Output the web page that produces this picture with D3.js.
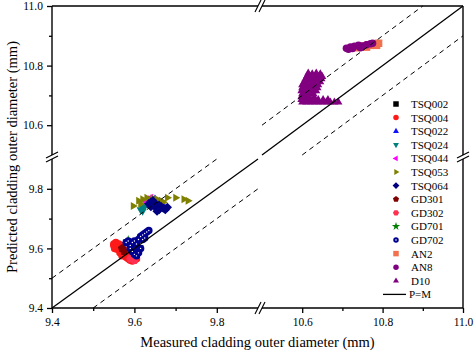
<!DOCTYPE html>
<html><head><meta charset="utf-8">
<script src="https://cdn.jsdelivr.net/npm/d3@7"></script>
<style>body{margin:0;background:#fff}svg{display:block}text{font-family:"Liberation Serif","Times New Roman",serif;fill:#000}</style>
</head><body>
<svg id="c" width="474" height="355"></svg>
<script>
// ---- data ----
const seriesNames = ["TSQ002","TSQ004","TSQ022","TSQ024","TSQ044","TSQ053","TSQ064","GD301","GD302","GD701","GD702","AN2","AN8","D10"];
const xTicksLow = [9.4, 9.6, 9.8];
const xTicksHigh = [10.6, 10.8, 11.0];
const yTicksLow = [9.4, 9.6, 9.8];
const yTicksHigh = [10.6, 10.8, 11.0];
const minorLow = [9.5, 9.7];
const minorHigh = [10.7, 10.9];

const tsq002 = [[9.64,9.75],[9.65,9.755]];
const tsq004 = [[9.55,9.615],[9.555,9.62],[9.56,9.61],[9.555,9.605],[9.56,9.6],[9.565,9.595],[9.57,9.59],[9.575,9.585],[9.565,9.605],[9.57,9.6],[9.58,9.58],[9.585,9.575],[9.59,9.57],[9.595,9.565],[9.6,9.56],[9.59,9.56],[9.585,9.565],[9.58,9.57],[9.6,9.57],[9.575,9.595],[9.55,9.61],[9.558,9.597],[9.565,9.585],[9.57,9.575],[9.552,9.6],[9.562,9.615],[9.568,9.61],[9.578,9.575],[9.595,9.558],[9.605,9.565],[9.588,9.58]];
const tsq022 = [[9.64,9.76],[9.65,9.765],[9.63,9.755],[9.66,9.755],[9.67,9.745],[9.635,9.745]];
const tsq024 = [[9.615,9.73],[9.62,9.735],[9.625,9.74],[9.62,9.725]];
const tsq044 = [[9.63,9.765],[9.64,9.77],[9.625,9.76]];
const tsq053 = [[9.597,9.742],[9.61,9.76],[9.62,9.765],[9.63,9.77],[9.645,9.768],[9.655,9.765],[9.665,9.76],[9.67,9.755],[9.68,9.77],[9.7,9.77],[9.72,9.765],[9.73,9.76],[9.615,9.75],[9.66,9.752]];
const tsq064 = [[9.635,9.75],[9.64,9.755],[9.645,9.745],[9.65,9.74],[9.655,9.735],[9.66,9.73],[9.665,9.74],[9.67,9.735],[9.675,9.73],[9.68,9.738],[9.645,9.76],[9.65,9.75],[9.66,9.745],[9.64,9.74],[9.655,9.725]];
const gd301 = [[9.57,9.6],[9.575,9.59]];
const gd302 = [[9.59,9.565],[9.6,9.56],[9.595,9.57]];
const gd701 = [[9.59,9.615],[9.6,9.61],[9.585,9.625],[9.61,9.605]];
const gd702 = [[9.58,9.62],[9.585,9.625],[9.59,9.61],[9.595,9.62],[9.6,9.625],[9.605,9.615],[9.6,9.6],[9.595,9.59],[9.6,9.58],[9.61,9.585],[9.615,9.6],[9.61,9.63],[9.615,9.64],[9.62,9.645],[9.625,9.65],[9.63,9.655],[9.635,9.66],[9.625,9.635],[9.62,9.63],[9.59,9.6],[9.605,9.575]];
const an2 = [[10.735,10.86],[10.75,10.865],[10.76,10.862],[10.77,10.868],[10.78,10.872],[10.79,10.875],[10.785,10.868],[10.765,10.87]];
const an8 = [[10.71,10.858],[10.72,10.862],[10.715,10.855],[10.73,10.865],[10.74,10.868],[10.75,10.866],[10.76,10.87],[10.77,10.873],[10.775,10.875],[10.745,10.86],[10.725,10.857]];
const d10 = [[10.615,10.775],[10.625,10.772],[10.635,10.775],[10.645,10.772],
 [10.612,10.765],[10.622,10.765],[10.632,10.765],[10.642,10.765],[10.65,10.763],
 [10.608,10.755],[10.618,10.755],[10.628,10.755],[10.638,10.755],[10.648,10.755],
 [10.605,10.745],[10.615,10.745],[10.625,10.745],[10.635,10.745],[10.645,10.745],
 [10.6,10.735],[10.61,10.735],[10.62,10.735],[10.63,10.735],[10.64,10.735],
 [10.6,10.725],[10.61,10.725],[10.62,10.725],[10.63,10.725],[10.638,10.725],
 [10.598,10.715],[10.608,10.715],[10.618,10.715],[10.628,10.715],[10.635,10.715],
 [10.6,10.705],[10.61,10.705],[10.62,10.705],[10.628,10.705],
 [10.598,10.695],[10.608,10.695],[10.618,10.695],[10.63,10.693],
 [10.598,10.686],[10.608,10.686],[10.618,10.686],[10.628,10.686],[10.64,10.686],[10.652,10.686],[10.664,10.686],
 [10.6,10.677],[10.61,10.677],[10.62,10.677],[10.63,10.677],[10.64,10.677],[10.65,10.677],[10.66,10.677],[10.67,10.677],[10.68,10.677],[10.69,10.677]];
const seriesData = [tsq002,tsq004,tsq022,tsq024,tsq044,tsq053,tsq064,gd301,gd302,gd701,gd702,an2,an8,d10];

// ---- styles ----
const colors = ["#000000","#ff1a1a","#1010ff","#008080","#ff00ff","#808000","#000080","#800000","#ff3050","#008000","#000090","#f07050","#800080","#800080"];
const shapes = ["square","circle","tri","tridown","trileft","triright","diamond","pentagon","hexagon","star","dotcircle","square","circle","tri"];

const svg = d3.select("#c");
const L=52, R=463, T=6, B=308, XB1=258, XB2=262, YB1=159, YB2=155;
const xLo = d3.scaleLinear().domain([9.4,9.9]).range([L,XB1]);
const xHi = d3.scaleLinear().domain([10.5,11.0]).range([XB2,R]);
const yLo = d3.scaleLinear().domain([9.4,9.9]).range([B,YB1]);
const yHi = d3.scaleLinear().domain([10.5,11.0]).range([YB2,T]);
const X = v => v < 10.2 ? xLo(v) : xHi(v);
const Y = v => v < 10.2 ? yLo(v) : yHi(v);

function symPath(shape, s){
  const p = d3.path();
  const poly = (n, r, rot) => { for(let i=0;i<n;i++){const a=rot+i*2*Math.PI/n; const px=r*Math.cos(a), py=r*Math.sin(a); i?p.lineTo(px,py):p.moveTo(px,py);} p.closePath(); };
  switch(shape){
    case "square": return d3.symbol(d3.symbolSquare, s*s)();
    case "circle": case "dotcircle": return d3.symbol(d3.symbolCircle, Math.PI*s*s/4)();
    case "tri": poly(3, s*0.62, -Math.PI/2); break;
    case "tridown": poly(3, s*0.62, Math.PI/2); break;
    case "trileft": poly(3, s*0.62, Math.PI); break;
    case "triright": poly(3, s*0.62, 0); break;
    case "diamond": poly(4, s*0.62, -Math.PI/2); break;
    case "pentagon": poly(5, s*0.58, -Math.PI/2); break;
    case "hexagon": poly(6, s*0.56, 0); break;
    case "star": return d3.symbol(d3.symbolStar, s*s*0.7)();
  }
  return p.toString();
}

// ---- points ----
const gPts = svg.append("g");
seriesData.forEach((data, i) => {
  const g = gPts.append("g");
  g.selectAll("path").data(data).join("path")
    .attr("transform", d => `translate(${X(d[0])},${Y(d[1])})`)
    .attr("d", symPath(shapes[i], 7.5))
    .attr("fill", colors[i]);
  if (shapes[i] === "dotcircle") {
    g.selectAll("circle").data(data).join("circle")
      .attr("cx", d => X(d[0])).attr("cy", d => Y(d[1])).attr("r", 0.7).attr("fill", "#fff");
  }
});

// ---- reference lines ----
const lines = [
  {x:[9.4,9.9], y:[9.4,9.9], dash:null},
  {x:[10.5,11.0], y:[10.5,11.0], dash:null},
  {x:[9.4,9.8], y:[9.5,9.9], dash:"5,4"},
  {x:[9.5,9.9], y:[9.4,9.8], dash:"5,4"},
  {x:[10.5,10.9], y:[10.6,11.0], dash:"5,4"},
  {x:[10.6,11.0], y:[10.5,10.9], dash:"5,4"}
];
lines.forEach(l => {
  svg.append("line").attr("x1",X(l.x[0])).attr("y1",Y(l.y[0])).attr("x2",X(l.x[1])).attr("y2",Y(l.y[1]))
    .attr("stroke","#000").attr("stroke-width", l.dash?1:1.3).attr("stroke-dasharray", l.dash);
});

// ---- axes ----
const ax = svg.append("g");
function styleAxis(g, hideLabels){
  g.attr("font-family",'"Liberation Serif",serif').attr("font-size",11.5);
  g.select(".domain").remove();
  g.selectAll(".tick line").attr("stroke","#000").attr("stroke-width",1.3);
  g.selectAll(".tick text").attr("font-family",'"Liberation Serif",serif').style("font-family",'"Liberation Serif",serif').style("font-size","11.5px");
  if (hideLabels) g.selectAll(".tick text").remove();
}
ax.append("g").attr("transform",`translate(0,${B})`).call(d3.axisBottom(xLo).tickValues(xTicksLow).tickSize(5).tickPadding(5).tickFormat(d3.format(".1f"))).call(styleAxis,false);
ax.append("g").attr("transform",`translate(0,${B})`).call(d3.axisBottom(xHi).tickValues(xTicksHigh).tickSize(5).tickPadding(5).tickFormat(d3.format(".1f"))).call(styleAxis,false);
ax.append("g").attr("transform",`translate(0,${B})`).call(d3.axisBottom(xLo).tickValues(minorLow).tickSize(3)).call(styleAxis,true);
ax.append("g").attr("transform",`translate(0,${B})`).call(d3.axisBottom(xHi).tickValues(minorHigh).tickSize(3)).call(styleAxis,true);
ax.append("g").attr("transform",`translate(${L},0)`).call(d3.axisLeft(yLo).tickValues(yTicksLow).tickSize(5).tickPadding(4).tickFormat(d3.format(".1f"))).call(styleAxis,false);
ax.append("g").attr("transform",`translate(${L},0)`).call(d3.axisLeft(yHi).tickValues(yTicksHigh).tickSize(5).tickPadding(4).tickFormat(d3.format(".1f"))).call(styleAxis,false);
ax.append("g").attr("transform",`translate(${L},0)`).call(d3.axisLeft(yLo).tickValues(minorLow).tickSize(3)).call(styleAxis,true);
ax.append("g").attr("transform",`translate(${L},0)`).call(d3.axisLeft(yHi).tickValues(minorHigh).tickSize(3)).call(styleAxis,true);

// frame segments with breaks
const seg = (x1,y1,x2,y2,w) => svg.append("line").attr("x1",x1).attr("y1",y1).attr("x2",x2).attr("y2",y2).attr("stroke","#000").attr("stroke-width",w||1.4);
seg(L,B,XB1,B); seg(XB2,B,R,B);
seg(L,T,XB1,T); seg(XB2,T,R,T);
seg(L,B,L,YB1); seg(L,YB2,L,T);
seg(R,B,R,YB1); seg(R,YB2,R,T);
// break marks
[B,T].forEach(y => { [XB1,XB2].forEach(x => seg(x-3,y+6,x+3,y-6,1.1)); });
[L,R].forEach(x => { [YB1,YB2].forEach(y => seg(x-6,y+3,x+6,y-3,1.1)); });

// ---- titles ----
svg.append("text").attr("x",(L+R)/2).attr("y",347).attr("text-anchor","middle").style("font-size","14.5px").text("Measured cladding outer diameter (mm)");
svg.append("text").attr("transform",`translate(17,${(T+B)/2}) rotate(-90)`).attr("text-anchor","middle").style("font-size","14.5px").text("Predicted cladding outer diameter (mm)");

// ---- legend ----
const lg = svg.append("g");
const ly0 = 104, lstep = 13.6, lx = 396;
seriesNames.forEach((n,i) => {
  const y = ly0 + i*lstep;
  lg.append("path").attr("transform",`translate(${lx},${y})`).attr("d", symPath(shapes[i], 5.5)).attr("fill", colors[i]);
  if (shapes[i]==="dotcircle") lg.append("circle").attr("cx",lx).attr("cy",y).attr("r",0.8).attr("fill","#fff");
  lg.append("text").attr("x",411).attr("y",y+4).style("font-size","11px").text(n);
});
const yPM = ly0 + seriesNames.length*lstep;
lg.append("line").attr("x1",383).attr("x2",406).attr("y1",yPM).attr("y2",yPM).attr("stroke","#000").attr("stroke-width",1.3);
lg.append("text").attr("x",409).attr("y",yPM+4).style("font-size","11px").text("P=M");
</script>
</body></html>
